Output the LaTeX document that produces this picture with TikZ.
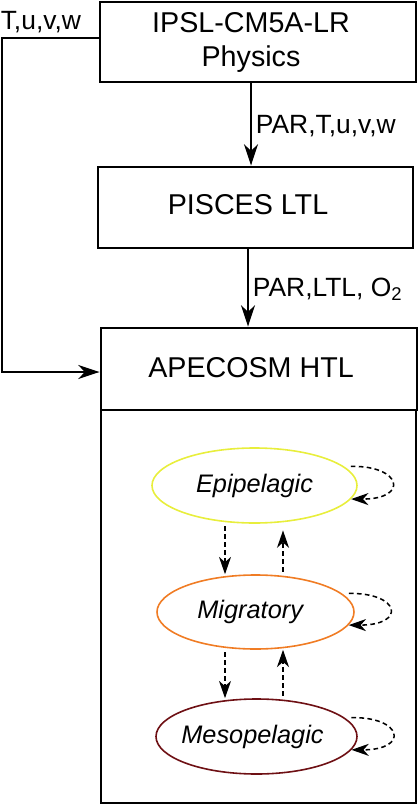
\documentclass[tikz,border=0pt]{standalone}
\usepackage{fontspec}
\setmainfont{Liberation Sans}
\usepackage{tikz}
\usetikzlibrary{shapes.geometric,arrows.meta}

\definecolor{epicol}{RGB}{232,238,60}
\definecolor{migcol}{RGB}{240,124,36}
\definecolor{mesocol}{RGB}{110,16,20}

\begin{document}
\begin{tikzpicture}[x=0.75pt,y=-0.75pt]
      \tikzstyle{box} = [rectangle, draw, line width=2.2pt, inner sep=0pt]
      \tikzstyle{txt} = [align=center, font=\fontsize{21.5}{26}\selectfont]
      \tikzstyle{lbl} = [inner sep=0pt, font=\fontsize{19.8}{23}\selectfont]
      \tikzstyle{zone} = [ellipse, draw, line width=1.2pt, inner sep=0pt,
                          font=\fontsize{19}{22}\selectfont\itshape]
      \tikzstyle{flow} = [line width=1.4pt, -{Stealth[length=16pt,width=10.5pt,inset=5pt]}]
      \tikzstyle{move} = [line width=1.15pt, dash pattern=on 3.5pt off 2.5pt,
                          -{Stealth[length=13pt,width=9pt,inset=4pt]}]
      \useasboundingbox (0,0) rectangle (418,806);
      % boxes
      \node (phys) [box, minimum width=237pt, minimum height=60pt] at (258,42) {};
      \node (physT) [txt] at (251,42.5) {IPSL-CM5A-LR\\Physics};
      \node (pisces) [box, minimum width=236.25pt, minimum height=60.75pt] at (255.5,207.5) {};
      \node (piscesT) [txt] at (248,205) {PISCES LTL};
      \node (ape) [box, minimum width=237pt, minimum height=61.5pt] at (259,369) {};
      \node (apeT) [txt] at (251,368) {APECOSM HTL};
      \node (body) [box, minimum width=236.25pt, minimum height=294.75pt] at (258.5,606.5) {};
      % communities
      \node (epi) [zone, draw=epicol, minimum width=153.75pt, minimum height=56.25pt] at (254.5,485.5) {Epipelagic};
      \node (mig) [zone, draw=migcol, minimum width=147.75pt, minimum height=55.5pt] at (255.5,612) {\kern-8pt Migratory};
      \node (meso) [zone, draw=mesocol, minimum width=150.75pt, minimum height=56.25pt] at (256.5,736.5) {\kern-6pt Mesopelagic};
      \coordinate (corner1) at (2,38);
      \coordinate (corner2) at (2,372);
      \coordinate (dn) at (225,0);
      \coordinate (up) at (283,0);
      % forcing
      \draw [flow] (physT |- phys.south) -- node[lbl, right=3pt, yshift=-1pt]{PAR,T,u,v,w} (physT |- pisces.north);
      \draw [flow] (piscesT |- pisces.south) -- node[lbl, right=3pt, yshift=-1pt]{PAR,LTL, O\textsubscript{2}} (piscesT |- ape.north);
      \draw [flow] (phys.west |- corner1) -- (corner1) -- (corner2) -- (ape.west |- corner2);
      \node (side) [lbl, anchor=west] at (0.5,22) {T,u,v,w};
      % exchanges
      \draw [move, shorten <=2pt] (epi.south -| dn) -- (mig.north -| dn);
      \draw [move, shorten <=2pt, shorten >=5pt] (mig.north -| up) -- (epi.south -| up);
      \draw [move, shorten <=2pt] (mig.south -| dn) -- (meso.north -| dn);
      \draw [move, shorten <=2pt] (meso.north -| up) -- (mig.south -| up);
      \draw [move, shorten <=5pt] (epi.12) .. controls +(58,-1) and +(58,0) .. (epi.-8);
      \draw [move, shorten <=5pt] (mig.12) .. controls +(58,-1) and +(58,0) .. (mig.-8);
      \draw [move, shorten <=5pt] (meso.12) .. controls +(58,-1) and +(58,0) .. (meso.-8);
\end{tikzpicture}
\end{document}
